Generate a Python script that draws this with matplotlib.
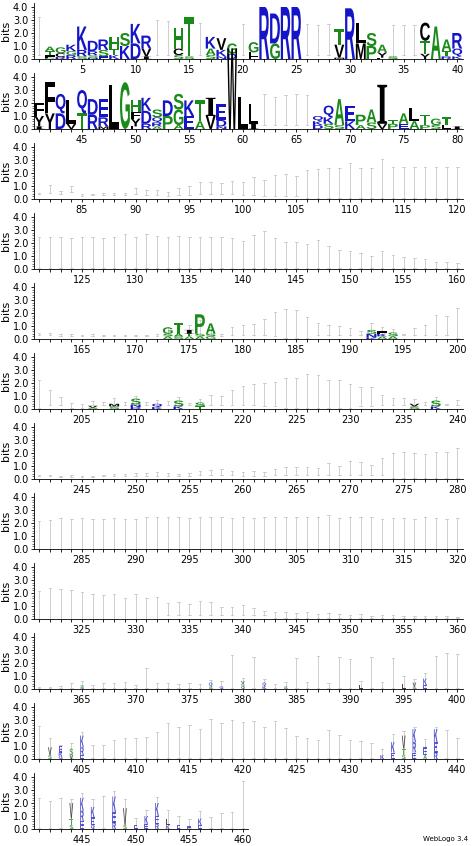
import matplotlib
matplotlib.use("Agg")
import matplotlib.pyplot as plt
import re
from matplotlib.textpath import TextPath
from matplotlib.font_manager import FontProperties
from matplotlib.patches import PathPatch
from matplotlib.transforms import Affine2D

# stacks: position -> letters (top to bottom) with heights in bits
stacks = {
    2: "A0.35T0.3F0.2P0.1", 3: "G0.45C0.3R0.15", 4: "K0.5G0.3R0.3",
    5: "K1.8R0.5S0.2", 6: "D0.8R0.3S0.2N0.1", 7: "R0.8S0.5E0.2",
    8: "H0.9T0.5K0.3", 9: "S1.0K1.0", 10: "K1.5D1.2", 11: "R1.0V0.6I0.2",
    14: "H1.6C0.5S0.3", 15: "T3.0S0.2", 17: "K0.9A0.5S0.3",
    18: "V0.9K0.5N0.2", 19: "G0.8D0.4", 21: "G0.8L0.3F0.2",
    22: "R4.0", 23: "D2.3G1.2", 24: "R4.0", 25: "R4.0",
    29: "T1.2V1.0M0.1", 30: "R3.9", 31: "L1.6M1.2", 32: "S1.0P1.0",
    33: "A0.6Y0.4L0.1", 34: "S0.2", 37: "C1.4T1.0Y0.4", 38: "A2.5",
    39: "A0.9T0.4R0.2", 40: "R1.2Q0.6K0.2",
    41: "F1.0Y0.8I0.2", 42: "F2.4Y1.2", 43: "Q1.5D1.2", 44: "L1.8V0.4",
    45: "Q1.8T1.2", 46: "D1.2R1.1", 47: "E1.4R0.7M0.2", 48: "L3.4",
    49: "G3.6", 50: "H0.9F0.5Y0.6L0.2", 51: "K1.0D1.0R0.4",
    52: "S0.6Q0.4R0.3A0.2", 53: "D1.2P1.0", 54: "S1.2G1.2A0.3",
    55: "K1.2E1.0", 56: "T1.6A0.6", 57: "I1.4V1.0", 58: "E1.2D0.5N0.2",
    59: "W6.2", 60: "L2.5", 61: "L1.5I0.4",
    67: "Q0.4K0.3D0.3", 68: "Q0.9K0.5S0.4", 69: "A2.0S0.3",
    70: "E1.2K0.6", 71: "P0.8A0.3", 72: "A1.0S0.5", 73: "I3.0V0.4",
    74: "T0.3P0.4", 75: "A0.8E0.4", 76: "L1.0A0.6", 77: "T0.8P0.3",
    78: "G0.5S0.3", 79: "T0.6L0.3", 80: "I0.2",
    173: "G0.5S0.2A0.2", 174: "T0.8A0.2S0.2", 175: "I0.3T0.2A0.2",
    176: "P1.5S0.2A0.2", 177: "A0.8S0.2G0.2",
    192: "S0.3N0.3K0.1", 193: "F0.2K0.2A0.2", 194: "S0.3A0.2",
    206: "V0.15S0.1", 208: "M0.2S0.2", 210: "S0.45N0.2D0.15",
    212: "Q0.25K0.15", 214: "S0.45K0.2", 216: "S0.3T0.2",
    236: "V0.2S0.2", 238: "S0.45K0.2",
    365: "S0.2Q0.1", 377: "Q0.3S0.2", 378: "Q0.2", 380: "V0.2S0.2Q0.2",
    382: "Q0.3K0.2", 384: "S0.2", 391: "L0.3", 395: "L0.4",
    396: "V0.3S0.2", 397: "K0.5E0.3",
    402: "V0.6S0.3", 403: "E0.5K0.3Q0.2", 404: "S0.5V0.3",
    405: "K0.9R0.6E0.3", 433: "K0.3", 434: "K0.8E0.5",
    435: "V1.0T0.5S0.3", 436: "K1.0R0.8E0.5", 437: "E0.6A0.3",
    438: "K1.0E0.8R0.5",
    444: "V1.2T0.5S0.3", 445: "K1.0R0.8E0.6", 446: "K0.8E0.6Q0.3",
    448: "K1.2E0.8R0.5", 449: "V1.3S0.3", 450: "E0.3", 451: "K0.6E0.4",
    452: "K1.0E0.6R0.4", 453: "L0.5K0.3", 454: "E0.3", 455: "E0.2",
    456: "K0.5E0.3",
}

# error bars in the first two rows: position -> (low, high)
err_row12 = {1: (0.3, 3.2), 12: (0.3, 3.0), 13: (0.3, 2.9), 16: (0.3, 2.8), 20: (0.3, 2.7),
             26: (0.3, 2.7), 27: (0.3, 2.6), 28: (0.3, 2.7), 34: (0.1, 2.6), 35: (0.3, 2.6),
             36: (0.3, 2.6), 62: (0.3, 2.7), 63: (0.3, 2.5), 64: (0.3, 2.6), 65: (0.3, 2.7),
             66: (0.3, 2.6)}
# error bars from position 81 onwards
err_hi = [
    0.5, 1.1, 0.6, 1.0, 0.35, 0.4, 0.45, 0.5, 0.5, 0.85, 0.7, 0.7, 0.55, 0.85, 1.0, 1.3, 1.3, 1.25, 1.35, 1.3,
    1.7, 1.45, 1.85, 1.9, 1.75, 2.25, 2.3, 2.35, 2.4, 2.75, 2.35, 2.4, 3.1, 2.45, 2.45, 2.5, 2.45, 2.5, 2.45, 2.45,
    2.45, 2.45, 2.45, 2.4, 2.45, 2.45, 2.4, 2.45, 2.7, 2.45, 2.7, 2.55, 2.5, 2.55, 2.45, 2.45, 2.45, 2.45, 2.4, 2.15,
    2.6, 2.95, 2.35, 2.05, 2.1, 1.95, 2.2, 1.75, 1.45, 1.35, 1.2, 1.0, 1.35, 1.1, 0.95, 0.85, 0.8, 0.55, 0.55, 0.45,
    0.5, 0.45, 0.4, 0.35, 0.3, 0.35, 0.3, 0.3, 0.3, 0.3, 0.3, 0.35, 0.9, 1.0, 1.1, 1.5, 0.9, 0.4, 0.9, 1.05,
    1.15, 1.55, 2.05, 2.3, 2.2, 1.7, 1.25, 1.05, 1.0, 0.85, 0.6, 1.2, 0.95, 0.8, 0.4, 0.85, 1.1, 1.85, 1.8, 2.35,
    2.25, 1.45, 0.9, 0.45, 0.35, 0.6, 0.5, 0.85, 0.5, 1.0, 0.55, 0.7, 0.65, 0.95, 0.45, 0.8, 1.05, 1.0, 1.45, 1.75,
    1.95, 2.0, 2.1, 2.4, 2.4, 2.7, 2.65, 2.25, 2.2, 1.95, 1.7, 1.7, 1.1, 0.85, 0.85, 0.75, 0.5, 0.95, 0.4, 0.7,
    0.3, 0.3, 0.2, 0.3, 0.25, 0.25, 0.3, 0.35, 0.35, 0.45, 0.45, 0.5, 0.45, 0.4, 0.45, 0.65, 0.7, 0.75, 0.6, 0.55,
    0.65, 0.55, 0.75, 0.95, 0.9, 0.95, 0.85, 1.25, 1.0, 1.4, 1.3, 1.1, 1.65, 2.0, 2.05, 2.0, 1.9, 2.1, 2.05, 2.4,
    2.15, 2.2, 2.4, 2.3, 2.4, 2.3, 2.3, 2.4, 2.3, 2.3, 2.45, 2.45, 2.45, 2.45, 2.4, 2.45, 2.45, 2.5, 2.4, 2.45,
    2.4, 2.45, 2.45, 2.45, 2.45, 2.45, 2.5, 2.6, 2.4, 2.5, 2.45, 2.45, 2.3, 2.4, 2.35, 2.3, 2.45, 2.35, 2.3, 2.35,
    2.15, 2.4, 2.3, 2.2, 2.05, 1.95, 1.85, 1.95, 1.6, 1.9, 1.6, 1.7, 1.2, 1.3, 1.15, 1.35, 1.3, 0.95, 0.9, 1.05,
    0.85, 0.65, 0.55, 0.55, 0.5, 0.55, 0.4, 0.45, 0.4, 0.3, 0.35, 0.25, 0.3, 0.3, 0.25, 0.25, 0.25, 0.2, 0.2, 0.15,
    0.15, 0.15, 0.25, 0.45, 0.6, 0.3, 0.45, 0.45, 0.55, 0.3, 1.65, 0.45, 0.45, 0.4, 0.5, 0.4, 0.7, 0.6, 2.65, 0.85,
    2.45, 0.75, 0.35, 0.55, 2.4, 0.55, 2.55, 0.45, 2.5, 2.3, 0.65, 2.45, 0.55, 2.4, 1.0, 0.8, 1.2, 2.55, 2.75, 2.7,
    2.55, 1.6, 1.1, 1.2, 2.1, 1.05, 1.05, 1.45, 1.6, 1.6, 1.7, 2.1, 2.75, 2.5, 2.6, 2.3, 3.1, 2.75, 3.0, 2.85,
    2.9, 2.45, 2.9, 2.35, 1.8, 1.6, 1.45, 2.2, 1.85, 1.45, 1.4, 1.2, 0.75, 1.9, 2.15, 2.45, 1.55, 2.5, 2.25, 1.6,
    2.4, 2.15, 2.4, 2.3, 2.8, 2.3, 2.55, 2.9, 2.3, 0.85, 1.45, 2.45, 1.5, 1.0, 0.8, 1.4, 0.95, 1.2, 1.3, 3.7,
]
err_lo = [
    0.4, 0.5, 0.4, 0.55, 0.25, 0.3, 0.3, 0.3, 0.3, 0.35, 0.3, 0.3, 0.25, 0.3, 0.3, 0.4, 0.35, 0.35, 0.35, 0.3,
    0.3, 0.25, 0.2, 0.2, 0.2, 0.1, 0.1, 0.1, 0.1, 0.1, 0.1, 0.1, 0.1, 0.1, 0.1, 0.1, 0.1, 0.1, 0.1, 0.1,
] + [0.1] * 40 + [
    0.3, 0.3, 0.25, 0.25, 0.2, 0.2, 0.2, 0.2, 0.2, 0.2, 0.2, 0.25, 0.3, 0.3, 0.3, 0.3, 0.3, 0.2, 0.3, 0.3,
    0.3, 0.3, 0.2, 0.1, 0.1, 0.1, 0.3, 0.3, 0.3, 0.3, 0.3, 0.3, 0.3, 0.3, 0.3, 0.3, 0.3, 0.3, 0.3, 0.1,
    0.1, 0.3, 0.3, 0.1, 0.1, 0.3, 0.3, 0.3, 0.3, 0.3, 0.3, 0.3, 0.3, 0.3, 0.3, 0.3, 0.3, 0.3, 0.3, 0.3,
    0.3, 0.2, 0.2, 0.1, 0.1, 0.1, 0.1, 0.1, 0.1, 0.1, 0.2, 0.2, 0.3, 0.3, 0.3, 0.3, 0.3, 0.3, 0.3, 0.3,
    0.2, 0.2, 0.15, 0.15, 0.15, 0.15, 0.2, 0.2, 0.2, 0.25, 0.25, 0.25, 0.25, 0.25, 0.25, 0.3, 0.3, 0.3, 0.3, 0.25,
    0.25, 0.25, 0.3, 0.3, 0.3, 0.3, 0.3, 0.3, 0.3, 0.3, 0.3, 0.3, 0.3, 0.1, 0.1, 0.1, 0.1, 0.1, 0.1, 0.1,
] + [0.0] * 40 + [
    0.0, 0.0, 0.0, 0.0, 0.0, 0.0, 0.0, 0.0, 0.0, 0.0, 0.0, 0.0, 0.3, 0.3, 0.3, 0.3, 0.3, 0.3, 0.3, 0.3,
    0.3, 0.3, 0.1, 0.1, 0.1, 0.1, 0.1, 0.1, 0.1, 0.05, 0.05, 0.05, 0.05, 0.05, 0.05, 0.05, 0.05, 0.05, 0.05, 0.05,
] + [0.1] * 100

colors = {}
for a in "GSTHAP":
    colors[a] = "#1a8a1a"
for a in "KRDEQN":
    colors[a] = "#1515c8"
for a in "CVLMFWYI":
    colors[a] = "black"

fp = FontProperties(family="Liberation Sans", weight="bold")
fp_serif = FontProperties(family="Liberation Serif", weight="bold")
fig = plt.figure(figsize=(4.74, 8.46), dpi=100)
W, H = 474, 846
x0 = 33.8
ppos = 10.72
ymax = 4.3
bit_px = 13.0
zeros = [59 + 70 * i for i in range(12)]


def draw_letter(ax, ch, x, y, h, w, alpha):
    tp = TextPath((0, 0), ch, size=1, prop=fp_serif if ch == "I" else fp)
    bb = tp.get_extents()
    tr = Affine2D().translate(-bb.x0, -bb.y0).scale(w / bb.width, h / bb.height).translate(x - w / 2, y)
    ax.add_patch(PathPatch(tr.transform_path(tp), color=colors[ch], lw=0, alpha=alpha,
                           clip_on=False, zorder=3))


for r in range(12):
    start = r * 40 + 1
    n = 40 if r < 11 else 20
    ax = fig.add_axes([x0 / W, 1 - zeros[r] / H, n * ppos / W, ymax * bit_px / H])
    ax.set_xlim(start - 0.5, start + n - 0.5)
    ax.set_ylim(0, ymax)
    for s in ["top", "right"]:
        ax.spines[s].set_visible(False)
    ax.spines["left"].set_linewidth(0.6)
    ax.spines["bottom"].set_linewidth(0.6)
    ax.set_yticks([0, 1, 2, 3, 4])
    ax.set_yticklabels(["0.0", "1.0", "2.0", "3.0", "4.0"])
    ax.set_yticks([i * 0.2 for i in range(21)], minor=True)
    ax.set_xticks(range(start, start + n))
    ax.set_xticklabels([str(p) if p % 5 == 0 else "" for p in range(start, start + n)])
    ax.tick_params(labelsize=7, length=2.5, width=0.6, pad=1.5)
    ax.tick_params(which="minor", length=1.5, width=0.4)
    ax.set_ylabel("bits", fontsize=8, labelpad=1)
    for p in range(start, start + n):
        if r < 2:
            lo, hi = err_row12.get(p, (None, None))
        else:
            lo, hi = err_lo[p - 81], err_hi[p - 81]
        if hi is not None:
            ax.plot([p, p], [lo, hi], color="#c8c8c8", lw=0.6, zorder=1)
            ax.plot([p - 0.12, p + 0.12], [hi, hi], color="#c8c8c8", lw=0.6, zorder=1)
            ax.plot([p - 0.12, p + 0.12], [lo, lo], color="#c8c8c8", lw=0.6, zorder=1)
        if p in stacks:
            items = re.findall(r"([A-Z])([0-9.]+)", stacks[p])
            narrow = p > 360
            y = 0
            for ch, h in reversed(items):
                draw_letter(ax, ch, p, y, float(h), 0.35 if narrow else 0.92, 0.7 if narrow else 1.0)
                y += float(h)

fig.text(468 / W, 1 - 842 / H, "WebLogo 3.4", fontsize=5, ha="right", va="bottom")
fig.savefig("out.png", dpi=100)
